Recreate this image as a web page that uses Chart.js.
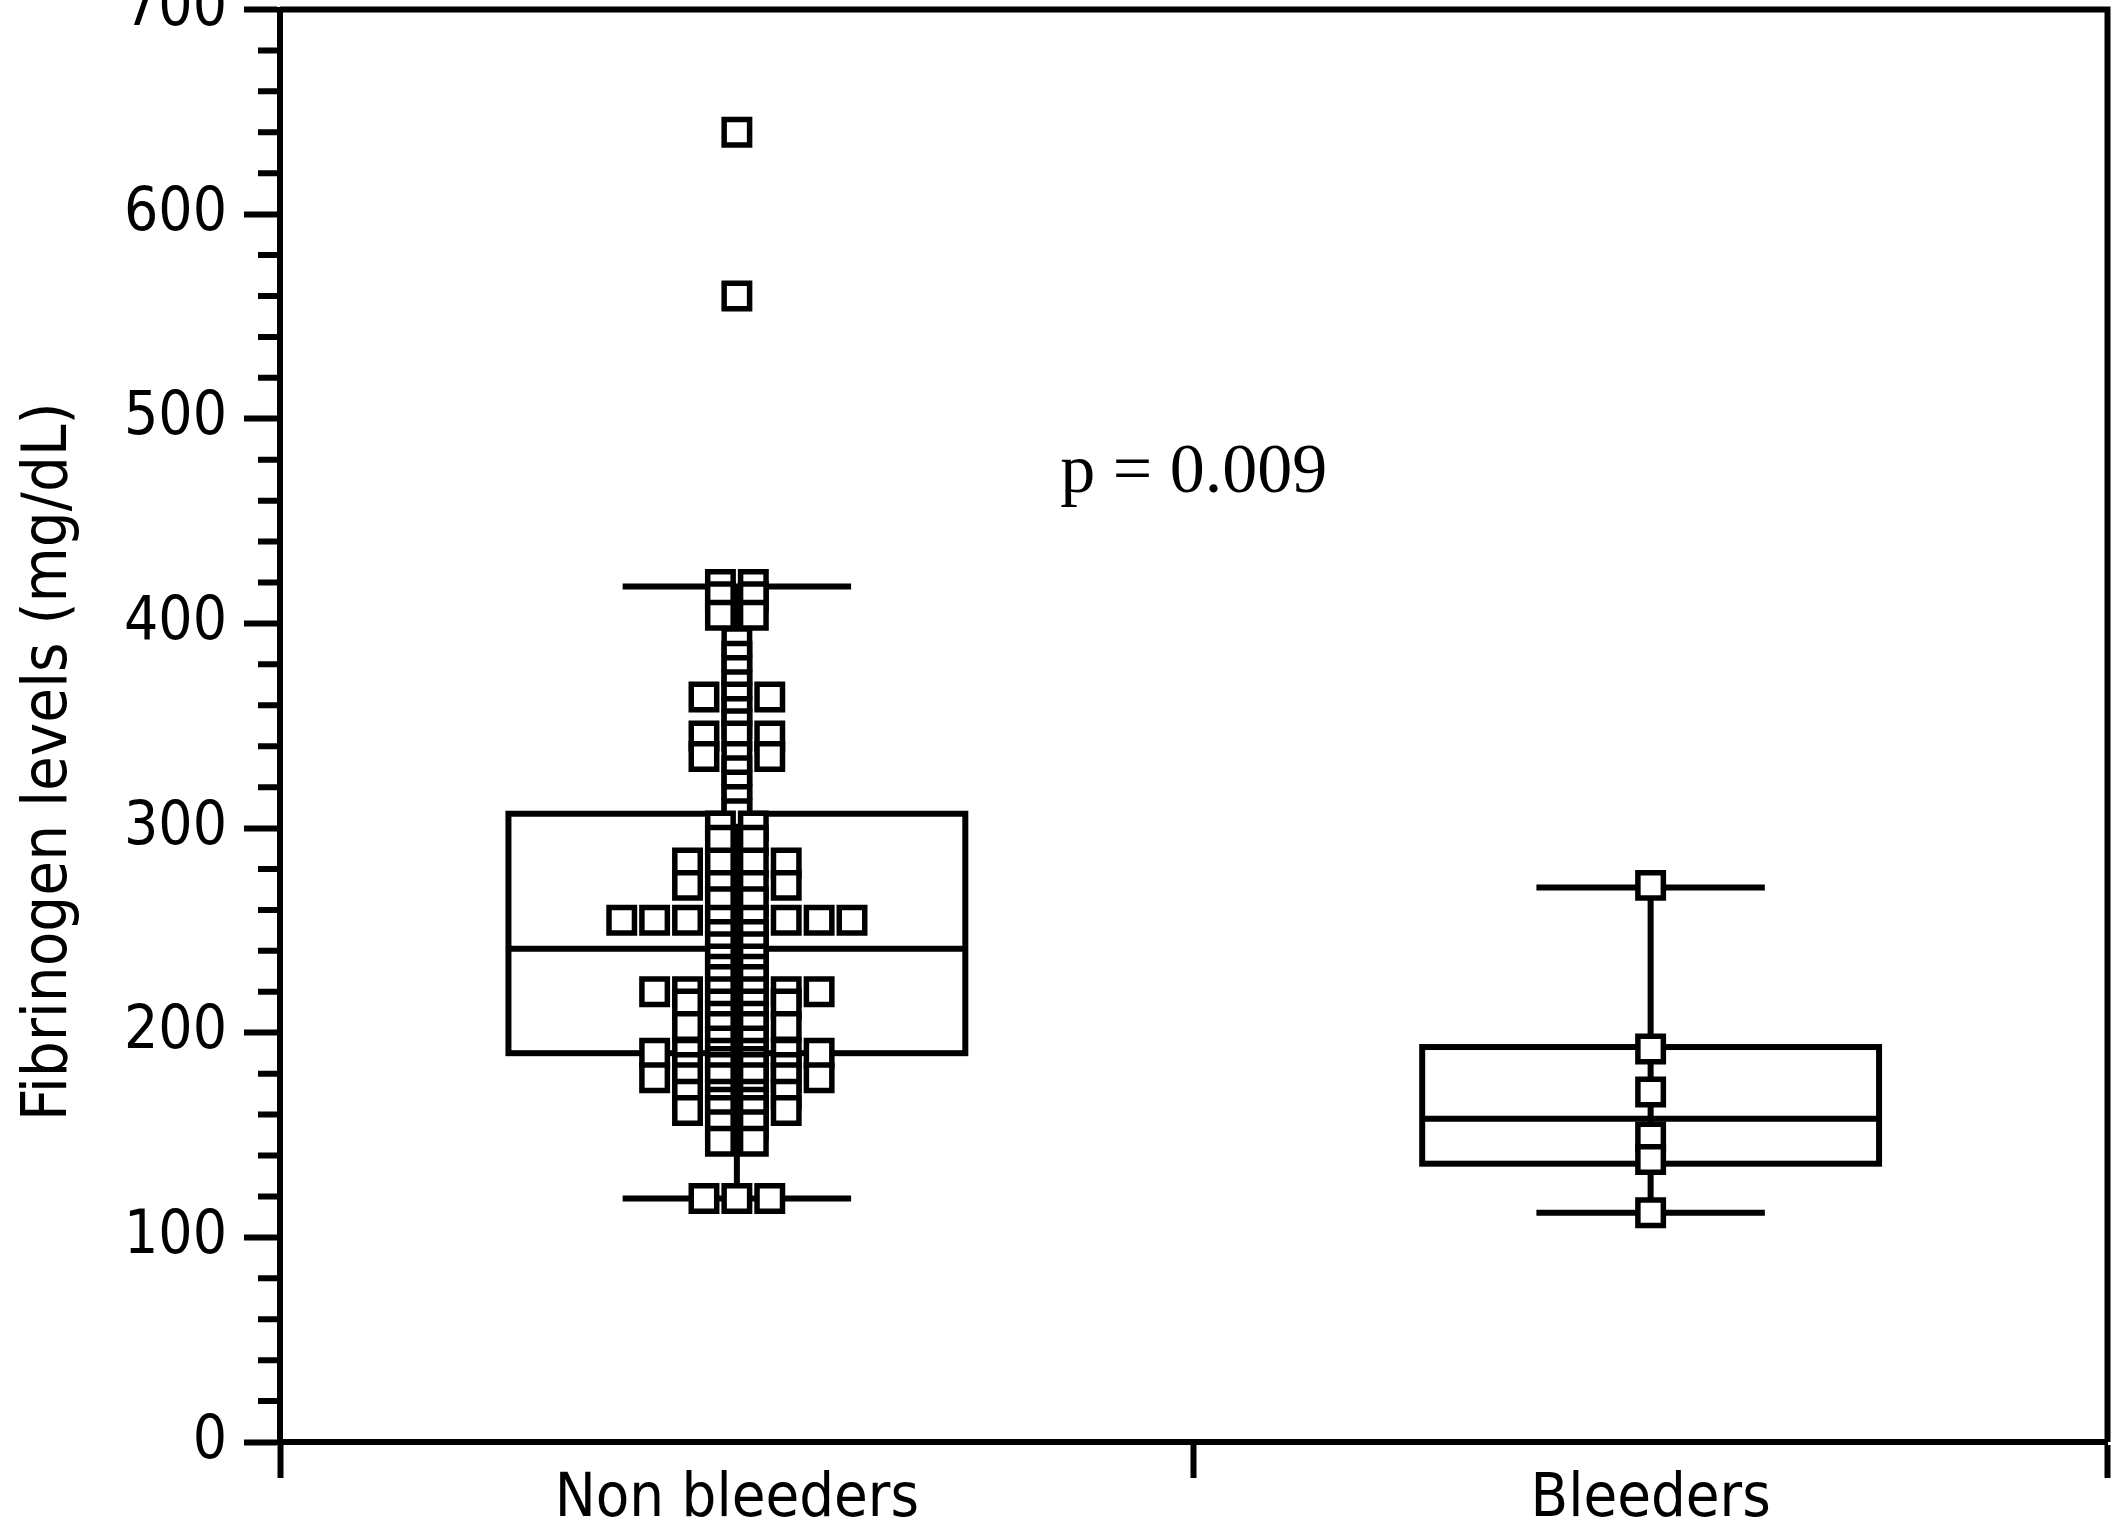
<!DOCTYPE html>
<html>
<head>
<meta charset="utf-8">
<script src="https://cdn.jsdelivr.net/npm/chart.js@4.4.1/dist/chart.umd.min.js"></script>
<style>
  html, body { margin: 0; padding: 0; background: #fff; overflow: hidden; }
  /* the canvas is a bit larger than the page so the frame can sit on the top/right edge */
  #wrap { width: 2131px; height: 1535px; position: absolute; left: 0; top: -14px; }
</style>
</head>
<body>
<div id="wrap"><canvas id="fibrinogen-chart"></canvas></div>
<script>
// groups on the x axis
const categories = ['Non bleeders', 'Bleeders']
const xTickValues = [-0.5, 0, 0.5, 1, 1.5] // group centres + group borders

// individual fibrinogen values (mg/dL)
const nonBleeders = [
  640, 560,
  419, 419, 413, 413, 404, 404,
  391, 384, 377, 370,
  364, 364, 364, 357, 351,
  345, 345, 345, 335, 335, 335,
  328, 321, 314, 307,
  301, 301, 294, 294,
  283, 283, 283, 283, 272, 272, 272, 272,
  264, 264,
  255, 255, 255, 255, 255, 255, 255, 255,
  248, 248, 242, 242, 236, 236, 231, 231, 226, 226,
  220, 220, 220, 220, 220, 220,
  214, 214, 214, 214, 208, 208,
  203, 203, 203, 203, 196, 196,
  190, 190, 190, 190, 190, 190, 186, 186,
  183, 183, 183, 183,
  178, 178, 178, 178, 178, 178,
  170, 170, 170, 170, 166, 166,
  162, 162, 162, 162,
  155, 155, 147, 147,
  119, 119, 119,
]
const bleeders = [272, 192, 171, 149, 138, 112]

// box plot summary per group
const q1 = [190, 136]
const median = [241, 158]
const q3 = [307, 193]
const whiskerLow = [119, 112]
const whiskerHigh = [418, 271]

// y axis
const yMin = 0
const yMax = 700
const yMajorStep = 100
const yMinorStep = 20

const pText = 'p = 0.009'
const pAt = { x: 0.5, y: 473 }

const SWARM_STEP = 0.036
const INK = '#000'
const LINE = 6
const SANS = '"DejaVu Sans Condensed", "Liberation Sans", sans-serif'

// spread equal values side by side around the group centre
function swarm(values, center) {
  const counts = {}
  values.forEach(function (v) { counts[v] = (counts[v] || 0) + 1 })
  const seen = {}
  return values.map(function (v) {
    seen[v] = seen[v] === undefined ? 0 : seen[v] + 1
    return { x: center + (seen[v] - (counts[v] - 1) / 2) * SWARM_STEP, y: v }
  })
}

// boxes, whiskers, caps and median lines (under the points)
const boxPlot = {
  id: 'boxPlot',
  beforeDatasetsDraw(chart) {
    const ctx = chart.ctx
    const x = chart.scales.x
    const y = chart.scales.y
    ctx.save()
    ctx.strokeStyle = INK
    ctx.lineWidth = LINE
    categories.forEach(function (c, i) {
      const cx = x.getPixelForValue(i)
      ctx.beginPath()
      ctx.moveTo(cx, y.getPixelForValue(whiskerLow[i]))
      ctx.lineTo(cx, y.getPixelForValue(whiskerHigh[i]))
      ;[whiskerLow[i], whiskerHigh[i]].forEach(function (w) {
        ctx.moveTo(x.getPixelForValue(i - 0.125), y.getPixelForValue(w))
        ctx.lineTo(x.getPixelForValue(i + 0.125), y.getPixelForValue(w))
      })
      ctx.moveTo(x.getPixelForValue(i - 0.25), y.getPixelForValue(median[i]))
      ctx.lineTo(x.getPixelForValue(i + 0.25), y.getPixelForValue(median[i]))
      ctx.stroke()

      const left = x.getPixelForValue(i - 0.25)
      const right = x.getPixelForValue(i + 0.25)
      const top = y.getPixelForValue(q3[i])
      const bottom = y.getPixelForValue(q1[i])
      ctx.strokeRect(left, top, right - left, bottom - top)
    })
    ctx.restore()
  },
}

// top/right frame, minor ticks and the p value
const frame = {
  id: 'frame',
  afterDraw(chart) {
    const ctx = chart.ctx
    const a = chart.chartArea
    const y = chart.scales.y
    ctx.save()
    ctx.strokeStyle = INK
    ctx.lineWidth = LINE
    ctx.beginPath()
    ctx.moveTo(a.left, a.top)
    ctx.lineTo(a.right, a.top)
    ctx.lineTo(a.right, a.bottom)
    for (let v = yMin; v <= yMax; v += yMinorStep) {
      if (v % yMajorStep === 0) continue
      const py = y.getPixelForValue(v)
      ctx.moveTo(a.left - 22, py)
      ctx.lineTo(a.left, py)
    }
    ctx.stroke()

    ctx.fillStyle = INK
    ctx.font = '70px "Liberation Serif", "Times New Roman", serif'
    ctx.textAlign = 'center'
    ctx.textBaseline = 'middle'
    ctx.fillText(pText, chart.scales.x.getPixelForValue(pAt.x), y.getPixelForValue(pAt.y))
    ctx.restore()
  },
}

const ctx = document.getElementById('fibrinogen-chart').getContext('2d')

const pointStyle = {
  pointStyle: 'rect',
  pointRadius: 18,
  borderWidth: 5.5,
  borderColor: INK,
  backgroundColor: '#fff',
}

const fibrinogenChart = new Chart(ctx, {
  type: 'scatter',
  data: {
    datasets: [
      Object.assign({ label: categories[0], data: swarm(nonBleeders, 0) }, pointStyle),
      Object.assign({ label: categories[1], data: swarm(bleeders, 1) }, pointStyle),
    ],
  },
  options: {
    responsive: true,
    maintainAspectRatio: false,
    devicePixelRatio: 1,
    animation: false,
    layout: { padding: { top: 8, right: 8, left: 0, bottom: 0 } },
    scales: {
      x: {
        type: 'linear',
        min: -0.5,
        max: 1.5,
        offset: false,
        afterBuildTicks: function (scale) {
          scale.ticks = xTickValues.map(function (v) { return { value: v } })
        },
        afterFit: function (scale) {
          scale.height = 79
          scale.paddingLeft = 0
          scale.paddingRight = 0
        },
        grid: {
          offset: false,
          drawOnChartArea: false,
          tickLength: 36,
          tickWidth: LINE,
          tickColor: function (c) { return Number.isInteger(c.tick.value) ? 'rgba(0,0,0,0)' : INK },
        },
        border: { color: INK, width: LINE },
        ticks: {
          autoSkip: false,
          maxRotation: 0,
          minRotation: 0,
          color: INK,
          padding: -14,
          font: { family: SANS, size: 61 },
          callback: function (v) { return Number.isInteger(v) ? categories[v] : '' },
        },
      },
      y: {
        min: yMin,
        max: yMax,
        afterFit: function (scale) {
          scale.width = 280
          scale.paddingTop = 0
          scale.paddingBottom = 0
        },
        grid: {
          drawOnChartArea: false,
          tickLength: 36,
          tickWidth: LINE,
          tickColor: function (c) { return c.tick.value % yMajorStep === 0 ? INK : 'rgba(0,0,0,0)' },
        },
        border: { color: INK, width: LINE },
        ticks: {
          stepSize: yMinorStep,
          autoSkip: false,
          color: INK,
          padding: 17,
          font: { family: SANS, size: 60 },
          callback: function (v) { return v % yMajorStep === 0 ? String(v) : '' },
        },
        title: {
          display: true,
          text: 'Fibrinogen levels (mg/dL)    ',
          color: INK,
          padding: { top: 12, bottom: 0 },
          font: { family: SANS, size: 63, weight: 'normal' },
        },
      },
    },
    plugins: {
      legend: { display: false },
      tooltip: { enabled: false },
    },
  },
  plugins: [boxPlot, frame],
})
</script>
</body>
</html>
